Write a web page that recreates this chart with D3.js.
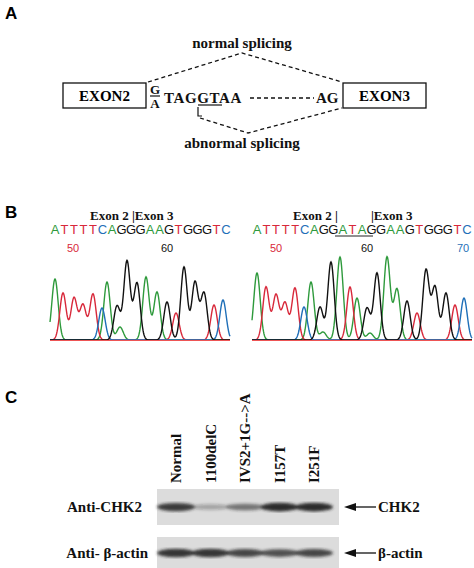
<!DOCTYPE html>
<html><head><meta charset="utf-8">
<script src="https://cdn.jsdelivr.net/npm/d3@7"></script>
<style>body{margin:0;background:#fff}svg{display:block}</style>
</head><body>
<svg id="fig" width="474" height="568"></svg>
<script>
// chromatogram peaks: [position in px, peak top y in px, base]
const leftPeaks = [[55,279,'A'],[63,293,'T'],[74,298,'T'],[83,305,'T'],[93,294,'T'],[102,308,'C'],[107,282,'A'],
  [117,306,'G'],[120,327,'A'],[127,261,'G'],[137,283,'G'],[146,277,'A'],[157,292,'A'],[167,302,'G'],[176,313,'T'],
  [184,267,'G'],[195,282,'G'],[204,293,'G'],[214,305,'T'],[223,300,'C']];
const rightPeaks = [[257,273,'A'],[266,287,'T'],[276,295,'T'],[285,303,'T'],[295,288,'T'],[304,307,'C'],[311,282,'A'],
  [320,307,'G'],[323,332,'A'],[331,262,'G'],[340,257,'A'],[350,287,'T'],[357,298,'A'],[367,308,'G'],[370,333,'A'],
  [377,273,'G'],[387,257,'A'],[397,289,'A'],[407,301,'G'],[417,313,'T'],[426,270,'G'],[435,287,'G'],[446,293,'G'],
  [455,305,'T'],[464,298,'C']];
const leftSeq = 'ATTTTCAGGGAAGTGGGTC';
const rightSeq = 'ATTTTCAGGATAGGAAGTGGGTC';
const lanes = ['Normal', '1100delC', 'IVS2+1G-->A', 'I157T', 'I251F'];
const chk2 = [0.85, 0.3, 0.55, 0.95, 0.95];
const actin = [0.9, 0.9, 0.8, 0.75, 0.8];

const baseColor = {A: '#2e9a3c', T: '#d8283a', C: '#1f6fb8', G: '#111'};
const svg = d3.select('#fig');
const serif = '"Liberation Serif", "Times New Roman", serif';
const sans = '"Liberation Sans", Arial, sans-serif';

// ---- panel A
svg.append('text').attr('x', 5).attr('y', 19).attr('font-family', sans).attr('font-weight', 'bold').attr('font-size', 17).text('A');
[[63, 'EXON2'], [343, 'EXON3']].forEach(([x, t]) => {
  svg.append('rect').attr('x', x).attr('y', 83).attr('width', 83).attr('height', 25).attr('fill', 'none').attr('stroke', '#111').attr('stroke-width', 1.3);
  svg.append('text').attr('x', x + 41.5).attr('y', 101).attr('text-anchor', 'middle').attr('font-family', serif).attr('font-weight', 'bold').attr('font-size', 15).text(t);
});
const tA = svg.append('g').attr('font-family', serif).attr('font-weight', 'bold').attr('fill', '#111');
tA.append('text').attr('x', 155).attr('y', 94).attr('text-anchor', 'middle').attr('font-size', 13).text('G');
tA.append('line').attr('x1', 150).attr('x2', 160).attr('y1', 96).attr('y2', 96).attr('stroke', '#111').attr('stroke-width', 1.2);
tA.append('text').attr('x', 155).attr('y', 108).attr('text-anchor', 'middle').attr('font-size', 13).text('A');
tA.append('text').attr('x', 164).attr('y', 103).attr('font-size', 15).attr('letter-spacing', 0.6).text('TAGGTAA');
tA.append('text').attr('x', 316).attr('y', 103).attr('font-size', 15).text('AG');
tA.append('line').attr('x1', 198).attr('x2', 222).attr('y1', 105).attr('y2', 105).attr('stroke', '#111').attr('stroke-width', 1.2);
tA.append('text').attr('x', 242).attr('y', 48).attr('text-anchor', 'middle').attr('font-size', 15).text('normal splicing');
tA.append('text').attr('x', 242).attr('y', 148).attr('text-anchor', 'middle').attr('font-size', 15).text('abnormal splicing');
const dash = d => svg.append('path').attr('d', d).attr('fill', 'none').attr('stroke', '#111').attr('stroke-width', 1.3).attr('stroke-dasharray', '4,3');
dash('M148,82 L242,53 L342,82');
dash('M250,98 L314,98');
dash('M200,118 L248,133 L342,108');
svg.append('path').attr('d', 'M198,107 L198,116 L202,116').attr('fill', 'none').attr('stroke', '#111').attr('stroke-width', 1.2);

// ---- panel B
svg.append('text').attr('x', 5).attr('y', 218).attr('font-family', sans).attr('font-weight', 'bold').attr('font-size', 17).text('B');
function chromatogram(peaks, x0, x1) {
  const baseY = 340, sigma = 3.2;
  const xs = d3.range(x0, x1 + 0.5, 0.5);
  Object.keys(baseColor).forEach(b => {
    const pk = peaks.filter(p => p[2] === b);
    const pts = xs.map(x => [x, baseY - d3.sum(pk, p => (baseY - p[1]) * Math.exp(-((x - p[0]) ** 2) / (2 * sigma * sigma)))]);
    svg.append('path').attr('d', d3.line()(pts)).attr('fill', 'none').attr('stroke', baseColor[b]).attr('stroke-width', 1.4);
  });
  svg.append('line').attr('x1', x0).attr('x2', x1).attr('y1', baseY + 0.5).attr('y2', baseY + 0.5).attr('stroke', '#e55').attr('stroke-width', 1);
}
chromatogram(leftPeaks, 50, 230);
chromatogram(rightPeaks, 252, 472);
function seq(s, x0, x1) {
  const x = d3.scalePoint().domain(d3.range(s.length)).range([x0, x1]);
  svg.append('g').selectAll('text').data(s.split('')).join('text')
    .attr('x', (d, i) => x(i)).attr('y', 234).attr('text-anchor', 'middle')
    .attr('font-family', sans).attr('font-size', 13).attr('fill', d => baseColor[d]).text(d => d);
}
seq(leftSeq, 55, 226);
seq(rightSeq, 257, 467);
const tB = svg.append('g').attr('font-family', serif).attr('font-weight', 'bold').attr('font-size', 13).attr('fill', '#111');
tB.append('text').attr('x', 90).attr('y', 220).text('Exon 2 |Exon 3');
tB.append('text').attr('x', 293).attr('y', 220).text('Exon 2 |');
tB.append('text').attr('x', 371).attr('y', 220).text('|Exon 3');
svg.append('line').attr('x1', 335).attr('x2', 373).attr('y1', 236).attr('y2', 236).attr('stroke', '#222').attr('stroke-width', 1.2);
[[73, '50', '#d8283a'], [167, '60', '#111'], [276, '50', '#d8283a'], [367, '60', '#111'], [463, '70', '#1f6fb8']].forEach(([x, t, c]) =>
  svg.append('text').attr('x', x).attr('y', 252).attr('text-anchor', 'middle').attr('font-family', sans).attr('font-size', 11).attr('fill', c).text(t));

// ---- panel C
svg.append('text').attr('x', 5).attr('y', 403).attr('font-family', sans).attr('font-weight', 'bold').attr('font-size', 17).text('C');
const lx = d3.scalePoint().domain(lanes).range([176, 314]);
svg.append('g').selectAll('text').data(lanes).join('text')
  .attr('transform', d => `translate(${lx(d) + 5},483) rotate(-90)`)
  .attr('font-family', serif).attr('font-weight', 'bold').attr('font-size', 15).attr('fill', '#111').text(d => d);
const defs = svg.append('defs');
defs.append('filter').attr('id', 'blur').append('feGaussianBlur').attr('stdDeviation', 1.8);
function blot(y, h, vals, bandY) {
  svg.append('rect').attr('x', 157).attr('y', y).attr('width', 182).attr('height', h).attr('fill', '#dcdcdc');
  svg.append('g').attr('filter', 'url(#blur)').selectAll('ellipse').data(lanes).join('ellipse')
    .attr('cx', d => lx(d)).attr('cy', bandY).attr('rx', 19).attr('ry', (d, i) => 2 + 2.5 * vals[i])
    .attr('fill', '#222').attr('opacity', (d, i) => vals[i]);
}
blot(489, 36, chk2, 507);
blot(537, 31, actin, 553);
const tC = svg.append('g').attr('font-family', serif).attr('font-weight', 'bold').attr('font-size', 15).attr('fill', '#111');
tC.append('text').attr('x', 142).attr('y', 512).attr('text-anchor', 'end').text('Anti-CHK2');
tC.append('text').attr('x', 148).attr('y', 558).attr('text-anchor', 'end').text('Anti- β-actin');
[[507, 'CHK2'], [553, 'β-actin']].forEach(([y, t]) => {
  svg.append('line').attr('x1', 350).attr('x2', 376).attr('y1', y).attr('y2', y).attr('stroke', '#111').attr('stroke-width', 1.3);
  svg.append('path').attr('d', `M344,${y} L356,${y - 4} L356,${y + 4} Z`).attr('fill', '#111');
  tC.append('text').attr('x', 378).attr('y', y + 5).text(t);
});
</script>
</body></html>
